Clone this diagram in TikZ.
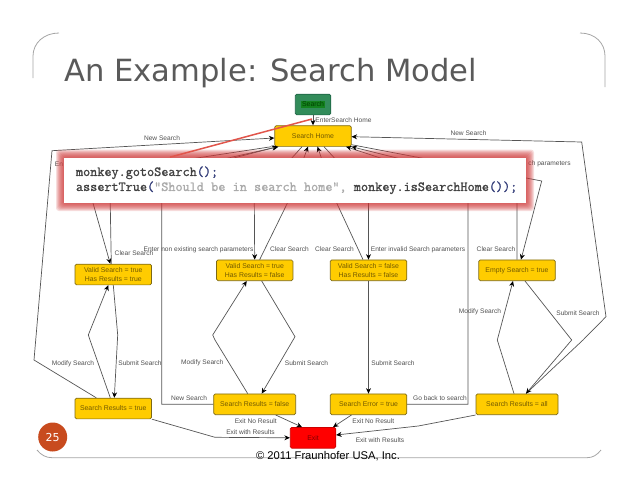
\documentclass[tikz,border=0pt]{standalone}
\usepackage{fontspec}
\setsansfont{Liberation Sans}
\newfontfamily\titlefont{DejaVu Sans}
\newfontfamily\codefont[FakeBold=1.2]{Latin Modern Mono}
\usetikzlibrary{arrows.meta}
\definecolor{statefill}{RGB}{255,204,0}
\definecolor{stateline}{RGB}{125,105,20}
\definecolor{statetext}{RGB}{115,90,0}
\definecolor{startfill}{RGB}{50,140,90}
\definecolor{startline}{RGB}{30,100,70}
\definecolor{startmark}{RGB}{20,130,30}
\definecolor{linegray}{RGB}{85,85,85}
\definecolor{labelgray}{RGB}{80,80,80}
\definecolor{framegray}{RGB}{165,165,165}
\definecolor{titlegray}{RGB}{90,90,90}
\definecolor{glowred}{RGB}{205,55,55}
\definecolor{pointerred}{RGB}{225,85,75}
\definecolor{pagedisc}{RGB}{200,75,30}
\definecolor{codedark}{RGB}{65,65,65}
\definecolor{codeblue}{RGB}{50,60,120}
\definecolor{codegray}{RGB}{170,170,170}
\begin{document}
\begin{tikzpicture}[x=1pt,y=-1pt,>={Stealth[length=5.5pt,width=5pt,black]},node distance=134pt,line width=.7pt,
	main node/.style={rectangle,draw=stateline,fill=statefill,rounded corners=1.5pt,inner sep=0pt,
		minimum width=76.5pt,minimum height=20.7pt,align=center,text=statetext,
		font=\sffamily\fontsize{6.9}{9}\selectfont},
	wide node/.style={main node,minimum width=82pt},
	start node/.style={main node,draw=startline,fill=startfill,minimum width=35.5pt,text=green!25!black},
	exit node/.style={main node,draw=red!80!black,fill=red,minimum width=45.5pt,text=red!50!black},
	edge label/.style={inner sep=0pt,text=labelgray,font=\sffamily\fontsize{6.6}{8}\selectfont},
	flow/.style={draw=linegray},
	frame line/.style={draw=framegray,line width=.8pt}]

	\useasboundingbox (0,0) rectangle (638,493);

	\draw[frame line] (33,78) -- (33,56) .. controls (33,43) and (44,33) .. (59,33);
	\draw[frame line] (580,33) .. controls (595,33) and (605,43) .. (605,56) -- (605,87);
	\draw[frame line] (37,450) .. controls (41,455) and (46,457.7) .. (52,457.7) -- (587,457.7) .. controls (593,457.7) and (597,455) .. (601,450);

	\node[anchor=base west,inner sep=0pt,text=titlegray,font=\titlefont\fontsize{30.6}{36}\selectfont] (title) at (64,81) {An Example: Search Model};

	\node[start node] (1) at (313,104.5) {\fboxsep=1.2pt\colorbox{startmark}{Search}};
	\node[main node] (2) [below of=1,node distance=31.5pt] {Search Home};
	\node[main node] (3) at (113.3,274.5) {Valid Search = true\\Has Results = true};
	\node[main node] (4) at (254.7,270.3) {Valid Search = true\\Has Results = false};
	\node[main node] (5) [right of=4,node distance=113.8pt] {Valid Search = false\\Has Results = false};
	\node[main node] (6) [right of=5,node distance=148.5pt] {Empty Search = true};
	\node[main node] (7) [below of=3] {Search Results = true};
	\node[wide node] (8) [below of=4] {Search Results = false};
	\node[main node] (9) [below of=5] {Search Error = true};
	\node[wide node] (10) [below of=6] {Search Results = all};
	\node[exit node] (11) at (313,437.8) {Exit};

	\draw[flow,->] (1) -- (2);
	\draw[flow,->] ([xshift=-17pt]7.north) -- (34,360) -- (52,150.7) -- ([yshift=-2pt]2.west);
	\draw[flow,->] ([xshift=-3pt]7.north) -- (90,340) -- (88.3,335) -- ([xshift=-5pt]3.south);
	\draw[flow,->] (3.south) -- (117.7,335) -- ([xshift=1pt]7.north);
	\draw[flow,->] ([xshift=-3pt]2.south west) -- (85,175) -- ([xshift=-3pt]3.north);
	\draw[flow,->] ([xshift=-2pt]3.north) -- (110,190) -- ([xshift=3pt]2.south west);
	\draw[flow,->] (8.west) -- (161.7,404.3) -- (161.7,173) -- ([xshift=4pt]2.south west);
	\draw[flow,->] ([xshift=-7pt]8.north) -- (215,340) -- (212.7,335) -- ([xshift=-8pt]4.south);
	\draw[flow,->] ([xshift=7pt]4.south) -- (295,336.7) -- ([xshift=7pt]8.north);
	\draw[flow,->] ([xshift=-11pt]2.south) -- (254.3,200) -- (4.north);
	\draw[flow,->] ([xshift=5pt]4.north) -- (287.3,203.3) -- ([xshift=-5pt]2.south);
	\draw[flow,->] ([xshift=-5.5pt]5.north) -- (336.7,203) -- ([xshift=4.5pt]2.south);
	\draw[flow,->] ([xshift=11pt]2.south) -- (368.5,195) -- (5.north);
	\draw[flow,->] (5) -- (9);
	\draw[flow,->] (9.east) -- (468,404.3) -- (468,187) -- ([xshift=-5.5pt]2.south east);
	\draw[flow,->] (6.north) -- (517,188) -- (2.south east);
	\draw[flow,->] ([yshift=2pt]2.south east) -- (541.7,181) -- ([xshift=4pt]6.north);
	\draw[flow,->] ([xshift=9pt]10.north) -- (583,340) -- (606,316.7) -- (581.7,142) -- ([yshift=-.7pt]2.east);
	\draw[flow,->] ([xshift=-3pt]10.north) -- (497.3,340) -- ([xshift=-4pt]6.south);
	\draw[flow,->] ([xshift=8pt]6.south) -- (571.7,340) -- ([xshift=9pt]10.north);
	\draw[flow,->] (7.south east) -- (215,437.3) -- (11.west);
	\draw[flow,->] ([xshift=21pt]8.south) -- ([xshift=-11pt]11.north);
	\draw[flow,->] ([xshift=-17pt]9.south) -- ([xshift=20pt]11.north);
	\draw[flow,->] (10.south west) -- (418.3,426) -- ([yshift=2.8pt]11.east);

	\node[edge label] (l1) at (343.5,120.6) {EnterSearch Home};
	\node[edge label] (l2) at (162,138) {New Search};
	\node[edge label] (l3) at (468.5,133) {New Search};
	\node[edge label,anchor=west] (l4) at (54.5,164) {En};
	\node[edge label,anchor=east] (l5) at (571,163.5) {ch parameters};
	\node[edge label] (l6) at (134,253) {Clear Search};
	\node[edge label] (l7) at (198.5,249.3) {Enter non existing search parameters};
	\node[edge label] (l8) at (289.5,249.3) {Clear Search};
	\node[edge label] (l9) at (334.5,249.3) {Clear Search};
	\node[edge label] (l10) at (418,249.3) {Enter invalid Search parameters};
	\node[edge label] (l11) at (496,249.3) {Clear Search};
	\node[edge label] (l12) at (73,364) {Modify Search};
	\node[edge label] (l13) at (140,363) {Submit Search};
	\node[edge label] (l14) at (202.3,362.7) {Modify Search};
	\node[edge label] (l15) at (306.5,362.7) {Submit Search};
	\node[edge label] (l16) at (393,362.7) {Submit Search};
	\node[edge label] (l17) at (480,312) {Modify Search};
	\node[edge label] (l18) at (578,312.7) {Submit Search};
	\node[edge label] (l19) at (189,398.3) {New Search};
	\node[edge label] (l20) at (440,398.3) {Go back to search};
	\node[edge label] (l21) at (255.7,421) {Exit No Result};
	\node[edge label] (l22) at (373.3,421) {Exit No Result};
	\node[edge label] (l23) at (250.5,431.7) {Exit with Results};
	\node[edge label] (l24) at (380,440) {Exit with Results};

	\node[circle,fill=pagedisc,minimum size=29pt,inner sep=0pt,text=white,font=\titlefont\fontsize{11}{13}\selectfont] (25) at (52.7,437) {25};
	\node[inner sep=0pt,text=black,font=\sffamily\fontsize{11.2}{13}\selectfont] (copy) at (328,456) {\textcopyright{} 2011 Fraunhofer USA, Inc.};

	\foreach \r in {8,7,...,1}
		\fill[glowred,opacity=.17,rounded corners=3pt] (64-\r,157.5-\r) rectangle (526+\r,203+\r);

	\coordinate (tip) at (312,119);
	\node[rectangle,fill=white,minimum width=462pt,minimum height=45.5pt,inner ysep=0pt,inner xsep=8pt,text width=446pt,align=left,
		text=codedark,font=\codefont\fontsize{13.8}{15}\selectfont] (12) at (295,180.25)
		{\spaceskip=7.25pt\xspaceskip=7.25pt\hspace*{4pt}monkey.gotoSearch\textcolor{codeblue}{();}\\
		\hspace*{4pt}assertTrue\textcolor{codeblue}{(}\textcolor{codegray}{"Should be in search home",} monkey.isSearchHome\textcolor{codeblue}{());}};
	\draw[pointerred,line width=1.5pt] ([xshift=-125pt]12.north) -- (tip);
\end{tikzpicture}
\end{document}
